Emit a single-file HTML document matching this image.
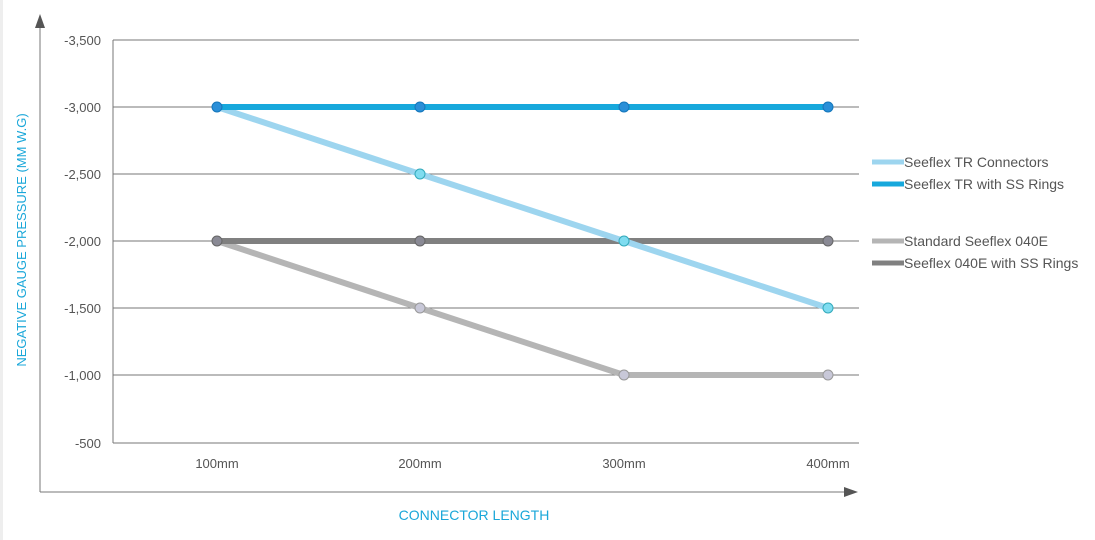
<!DOCTYPE html>
<html><head><style>body{margin:0;background:#fff}svg{display:block;font-family:"Liberation Sans",sans-serif}</style></head><body>
<svg width="1095" height="540" viewBox="0 0 1095 540" xmlns="http://www.w3.org/2000/svg">
<rect x="0" y="0" width="3" height="540" fill="#eee"/>
<g stroke="#777" stroke-width="1">
<line x1="113" y1="40" x2="859" y2="40"/><line x1="113" y1="107" x2="859" y2="107"/><line x1="113" y1="174" x2="859" y2="174"/><line x1="113" y1="241" x2="859" y2="241"/><line x1="113" y1="308" x2="859" y2="308"/><line x1="113" y1="375" x2="859" y2="375"/><line x1="113" y1="443" x2="859" y2="443"/>
<line x1="113" y1="40" x2="113" y2="443"/>
<line x1="40" y1="26" x2="40" y2="492"/><line x1="40" y1="492" x2="846" y2="492"/>
</g>
<polygon points="40,14 35,28 45,28" fill="#555"/>
<polygon points="858,492 844,487 844,497" fill="#555"/>
<g font-size="13" fill="#555" text-anchor="end">
<text x="101" y="45">-3,500</text><text x="101" y="112">-3,000</text><text x="101" y="179">-2,500</text><text x="101" y="246">-2,000</text><text x="101" y="313">-1,500</text><text x="101" y="380">-1,000</text><text x="101" y="448">-500</text>
</g>
<g font-size="13" fill="#555" text-anchor="middle">
<text x="217" y="468">100mm</text><text x="420" y="468">200mm</text><text x="624" y="468">300mm</text><text x="828" y="468">400mm</text>
</g>
<text x="474" y="520" font-size="14" fill="#1aa7d9" text-anchor="middle">CONNECTOR LENGTH</text>
<text transform="translate(26,240) rotate(-90)" font-size="13" fill="#1aa7d9" text-anchor="middle">NEGATIVE GAUGE PRESSURE (MM W.G)</text>
<g fill="none" stroke-width="6">
<polyline points="217,241 420,308 624,375 828,375" stroke="#b5b5b5"/>
<polyline points="217,241 420,241 624,241 828,241" stroke="#808080"/>
<polyline points="217,107 420,174 624,241 828,308" stroke="#9dd5ef"/>
<polyline points="217,107 420,107 624,107 828,107" stroke="#17a8dc"/>
</g>
<g stroke-width="1">
<g fill="#c8c8d8" stroke="#999"><circle cx="420" cy="308" r="5"/><circle cx="624" cy="375" r="5"/><circle cx="828" cy="375" r="5"/></g>
<g fill="#8a8a95" stroke="#666"><circle cx="217" cy="241" r="5"/><circle cx="420" cy="241" r="5"/><circle cx="828" cy="241" r="5"/></g>
<g fill="#7fdcf0" stroke="#3ab"><circle cx="420" cy="174" r="5"/><circle cx="624" cy="241" r="5"/><circle cx="828" cy="308" r="5"/></g>
<g fill="#2a8fd8" stroke="#1577bb"><circle cx="217" cy="107" r="5"/><circle cx="420" cy="107" r="5"/><circle cx="624" cy="107" r="5"/><circle cx="828" cy="107" r="5"/></g>
</g>
<g stroke-width="5">
<line x1="872" y1="162" x2="904" y2="162" stroke="#9dd5ef"/>
<line x1="872" y1="184" x2="904" y2="184" stroke="#17a8dc"/>
<line x1="872" y1="241" x2="904" y2="241" stroke="#b5b5b5"/>
<line x1="872" y1="263" x2="904" y2="263" stroke="#808080"/>
</g>
<g font-size="14" fill="#555">
<text x="904" y="167">Seeflex TR Connectors</text>
<text x="904" y="189">Seeflex TR with SS Rings</text>
<text x="904" y="246">Standard Seeflex 040E</text>
<text x="904" y="268">Seeflex 040E with SS Rings</text>
</g>
</svg>
</body></html>
